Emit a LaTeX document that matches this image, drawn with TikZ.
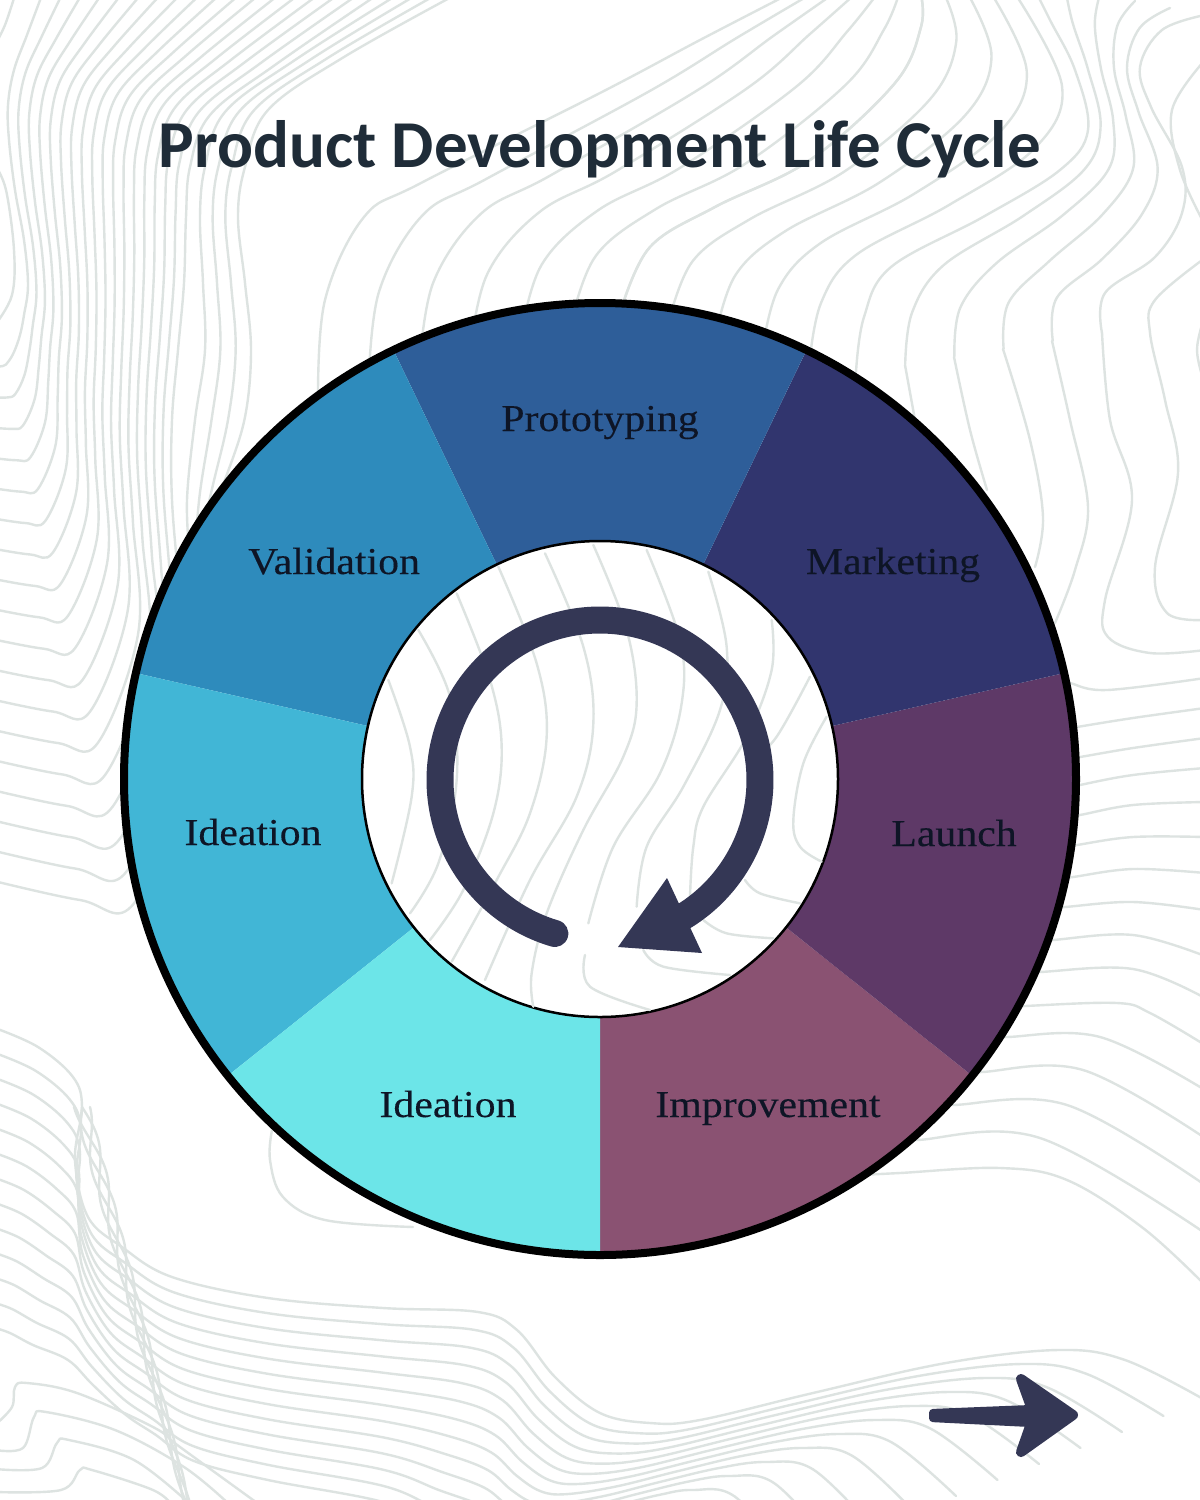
\documentclass[tikz,border=0pt]{standalone}
\usepackage{fontspec}
\setmainfont{Liberation Serif}
\newfontfamily\titlefont{Carlito}
\newfontfamily\labelfont[FakeStretch=1.1,FakeBold=0.25]{Liberation Serif}
\usetikzlibrary{calc}
\definecolor{contourc}{HTML}{DDE3E1}
\definecolor{arrowc}{HTML}{343755}
\definecolor{titlec}{HTML}{1F2C38}
\definecolor{labelc}{HTML}{0E1526}
\definecolor{wA}{HTML}{8A5272}
\definecolor{wB}{HTML}{5E3967}
\definecolor{wC}{HTML}{31356E}
\definecolor{wD}{HTML}{2E5E99}
\definecolor{wE}{HTML}{2E8BBC}
\definecolor{wF}{HTML}{41B6D6}
\definecolor{wG}{HTML}{6CE5E8}
\tikzset{
  contour/.style={draw=contourc,line width=2.4pt,line cap=round,line join=round},
  seglabel/.style={font=\labelfont\fontsize{38}{44}\selectfont,text=labelc,inner sep=0pt,anchor=base},
}
\newcommand\kpp[4]{(\fpeval{round(#1+\mytt*((#3)-(#1)),2)},\fpeval{round(#2+\mytt*((#4)-(#2)),2)}) }
\newcommand\cfam[2]{\foreach \k in {0,...,#1}{%
  \edef\mytt{\fpeval{\k/#1}}%
  \edef\tmpdraw{\noexpand\draw[contour] plot[smooth,tension=.6] coordinates {#2};}%
  \tmpdraw}}
\newcommand\ctl[1]{\draw[contour] plot[smooth,tension=.6] coordinates {#1};}
\newcommand\ringseg[3]{\fill[#3] (#1:238pt) -- (#1:476pt) arc[start angle=#1,end angle=#2,radius=476pt] -- (#2:238pt) arc[start angle=#2,end angle=#1,radius=238pt] -- cycle;}
\begin{document}
\begin{tikzpicture}[x=1pt,y=-1pt]
\useasboundingbox (0,0) rectangle (1200,1500);
\fill[white] (0,0) rectangle (1200,1500);
\begin{scope}
\clip (0,0) rectangle (1200,1500);
% --- upper left family, exits to the left
\cfam{17}{\kpp{42}{-5}{377}{-5}\kpp{27}{35}{275}{65}\kpp{14}{70}{210}{115}\kpp{8}{105}{190}{167}\kpp{9}{140}{186}{217}\kpp{15}{190}{184}{283}\kpp{24}{240}{178}{350}\kpp{28}{285}{172}{420}\kpp{24}{315}{172}{500}\kpp{20}{335}{180}{600}\kpp{14}{352}{190}{750}\kpp{8}{362}{135}{902}\kpp{3}{366}{80}{900}\kpp{-10}{367}{-10}{880}}
\cfam{3}{\kpp{397}{-5}{455}{-5}\kpp{295}{60}{344}{57}\kpp{225}{112}{268}{110}\kpp{205}{167}{245}{167}\kpp{200}{217}{238}{217}\kpp{203}{283}{245}{283}\kpp{205}{350}{251}{350}\kpp{195}{420}{245}{417}\kpp{187}{500}{226}{477}\kpp{190}{560}{205}{530}}
\ctl{(-5,325) (12,295) (14,250) (6,190) (-5,165)}
\ctl{(-5,45) (5,25) (15,-5)}
% --- upper middle / right family
\cfam{6}{\kpp{318}{400}{621}{310}\kpp{325}{300}{650}{247}\kpp{364}{217}{715}{207}\kpp{421}{183}{810}{160}\kpp{600}{93}{895}{83}\kpp{700}{40}{921}{27}\kpp{787}{-5}{921}{-5}}
\cfam{4}{\kpp{621}{310}{809}{366}\kpp{650}{247}{821}{303}\kpp{715}{207}{856}{255}\kpp{810}{160}{949}{205}\kpp{895}{83}{1035}{148}\kpp{921}{27}{1062}{86}\kpp{921}{-5}{1016}{-5}}
\cfam{5}{\kpp{856}{372}{1102}{333}\kpp{864}{317}{1105}{293}\kpp{891}{267}{1155}{257}\kpp{983}{217}{1182}{213}\kpp{1060}{170}{1182}{167}\kpp{1088}{130}{1151}{107}\kpp{1075}{70}{1140}{67}\kpp{1050}{20}{1162}{30}\kpp{1030}{-20}{1205}{15}}
\ctl{(1102,333) (1110,420) (1132,500) (1105,600) (1108,637) (1150,653) (1205,650)}
\ctl{(1052,341) (1070,420) (1088,507) (1075,570) (1055,623)}
\ctl{(1003,349) (1030,440) (1043,517) (1035,567)}
\ctl{(954,357) (970,430) (987,490)}
\ctl{(905,365) (915,420)}
\ctl{(1205,258) (1155,300) (1150,333) (1165,400) (1178,473) (1155,567) (1167,613) (1205,620)}
\ctl{(1205,60) (1172,110) (1180,170) (1205,225)}
\ctl{(1205,315) (1197,350) (1205,385)}
% --- right side lines
\ctl{(1060,680) (1070,683) (1107,690) (1205,678)}
\ctl{(1060,730) (1077,727) (1133,718) (1205,708)}
\ctl{(1060,760) (1080,757) (1133,748) (1205,738)}
\ctl{(1060,790) (1080,785) (1133,775) (1205,768)}
\ctl{(1060,818) (1080,815) (1133,805) (1205,802)}
\ctl{(1060,848) (1077,845) (1133,837) (1205,837)}
\ctl{(1050,880) (1073,877) (1133,869) (1205,873)}
\ctl{(1040,909) (1065,907) (1133,902) (1205,910)}
\ctl{(1030,942) (1053,940) (1133,935) (1205,956)}
\ctl{(1010,974) (1040,972) (1133,969) (1205,998)}
\ctl{(1000,1008) (1025,1006) (1117,1003) (1150,1013) (1205,1045)}
\ctl{(980,1039) (1007,1037) (1100,1037) (1205,1090)}
\ctl{(960,1074) (982,1072) (1083,1070) (1205,1138)}
\ctl{(930,1106) (953,1105) (1067,1105) (1205,1185)}
\ctl{(890,1142) (917,1140) (1040,1138) (1205,1233)}
\ctl{(860,1175) (900,1173) (1000,1168) (1067,1180) (1143,1228) (1205,1285)}
% --- lower wavy family
\cfam{12}{\kpp{-5}{1028}{-5}{1328}\kpp{38}{1047}{10}{1333}\kpp{73}{1077}{33}{1345}\kpp{82}{1107}{68}{1360}\kpp{75}{1160}{93}{1385}\kpp{88}{1217}{126}{1415}\kpp{122}{1247}{156}{1435}\kpp{172}{1277}{194}{1461}\kpp{268}{1298}{268}{1480}\kpp{383}{1308}{383}{1502}\kpp{478}{1312}{432}{1526}\kpp{517}{1330}{473}{1540}\kpp{555}{1377}{489}{1546}\kpp{600}{1413}{498}{1547}\kpp{650}{1423}{506}{1545}\kpp{700}{1420}{556}{1534}\kpp{813}{1393}{581}{1527}\kpp{946}{1363}{603}{1521}\kpp{1058}{1350}{619}{1518}\kpp{1125}{1360}{657}{1524}\kpp{1205}{1400}{707}{1592}}
% braid along the band
\foreach \ph in {0,90,180,270}{
  \draw[contour] plot[domain=0:1,samples=90,smooth] ({82+106*\x+(8-5*\x)*sin(1080*\x+\ph)},{1107+400*\x});
}
% bottom-left corner steps
\ctl{(-5,1425) (12,1407) (15,1387) (27,1383) (77,1393) (153,1427) (180,1447) (260,1505)}
\ctl{(-5,1450) (23,1448) (34,1417) (46,1412) (115,1430) (184,1467) (230,1505)}
\ctl{(-5,1469) (42,1468) (57,1443) (69,1440) (134,1460) (191,1505)}
\ctl{(-5,1492) (61,1490) (80,1470) (92,1470) (153,1490) (172,1505)}
% arc beside the ring
\ctl{(272,1130) (270,1160) (283,1197) (325,1220) (413,1227)}
\end{scope}
% --- ring
\begin{scope}[shift={(600,779)},x=1pt,y=1pt]
\ringseg{270}{321.43}{wA}
\ringseg{321.43}{372.86}{wB}
\ringseg{12.86}{64.29}{wC}
\ringseg{64.29}{115.71}{wD}
\ringseg{115.71}{167.14}{wE}
\ringseg{167.14}{218.57}{wF}
\ringseg{218.57}{270}{wG}
\draw[black,line width=8pt] (0,0) circle[radius=476pt];
\draw[black,line width=2.5pt] (0,0) circle[radius=238pt];
\end{scope}
% --- contour lines seen through the hole
\begin{scope}[shift={(350,530)},x=.33333pt,y=-.33333pt]
\ctl{(115,450) (180,650) (185,800) (125,1060)}
\ctl{(205,300) (300,500) (320,750) (265,1000) (180,1150)}
\ctl{(320,190) (420,450) (455,650) (430,850) (340,1080) (240,1230)}
\ctl{(445,110) (560,400) (590,620) (540,850) (440,1050) (305,1295)}
\ctl{(585,70) (700,350) (730,580) (680,800) (540,1050) (405,1350)}
\ctl{(730,45) (830,300) (860,520) (820,680) (700,900) (590,1150) (545,1330) (550,1430)}
\ctl{(890,60) (990,330) (995,520) (930,730) (790,950) (715,1180)}
\ctl{(1075,125) (1130,350) (1110,540) (1000,770) (890,950) (860,1130)}
\ctl{(1265,270) (1265,420) (1190,620) (1060,830) (1030,950) (1020,1100)}
\ctl{(1380,440) (1280,620) (1200,700)}
\ctl{(1430,560) (1360,700) (1330,870) (1350,950) (1415,995)}
\ctl{(1185,1050) (1230,1090) (1350,1120)}
\ctl{(1060,1170) (1130,1210) (1270,1225)}
\ctl{(880,1260) (940,1310) (1140,1335)}
\ctl{(705,1275) (720,1370) (900,1440)}
\end{scope}
% --- cycle arrow
\draw[arrowc,line width=27pt,line cap=round] plot[domain=253.6:-60,samples=120,smooth] ({600+160*cos(\x)},{780-160*sin(\x)});
\fill[arrowc] (618,947) -- (667,878) -- (702,953) -- cycle;
% --- next arrow
\fill[arrowc,draw=arrowc,line width=2pt,line join=round,rounded corners=3pt] (930,1410) -- (1030,1406) -- (1030,1426) -- (930,1421) -- cycle;
\fill[arrowc,draw=arrowc,line width=10pt,line join=round] (1073,1415) -- (1021,1379) -- (1034,1415) -- (1021,1452) -- cycle;
% --- text
\node[font=\titlefont\bfseries\fontsize{67}{80}\selectfont,text=titlec,inner sep=0pt,anchor=base] (title) at (600,167) {Product Development Life Cycle};
\node[seglabel] (s1) at (600,431) {Prototyping};
\node[seglabel] (s2) at (334,574) {Validation};
\node[seglabel] (s3) at (893,574) {Marketing};
\node[seglabel] (s4) at (253,845) {Ideation};
\node[seglabel] (s5) at (954,846) {Launch};
\node[seglabel] (s6) at (448,1117) {Ideation};
\node[seglabel] (s7) at (768,1117) {Improvement};
\end{tikzpicture}
\end{document}
